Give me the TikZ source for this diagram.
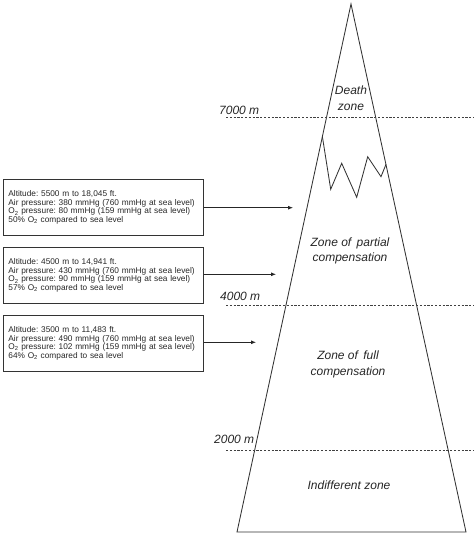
\documentclass[tikz,border=0pt]{standalone}
\usepackage{fontspec}
\setmainfont{Liberation Sans}
\usetikzlibrary{arrows.meta}
\frenchspacing
\begin{document}
\begin{tikzpicture}[x=1pt,y=-1pt,
  line/.style={draw=black!80, line width=0.85pt},
  dashline/.style={draw=black!75, line width=0.8pt, dash pattern=on 2.2pt off 1.6pt},
  zone/.style={font=\fontsize{12}{15.5}\selectfont\itshape, text=black!85, align=center, inner sep=0pt},
  alt/.style={font=\fontsize{12}{14}\selectfont\itshape, text=black!85, inner sep=0pt},
  infobox/.style={draw=black!80, line width=0.8pt, align=left, text=black!85,
    font=\fontsize{8.3}{8.5}\selectfont, minimum width=200pt, minimum height=55.5pt,
    text width=190pt, inner xsep=5pt, inner ysep=3pt},
  arr/.style={draw=black!85, line width=0.8pt, -{Latex[length=5pt,width=4pt]}}]
\useasboundingbox (0,0) rectangle (474,536);
% mountain
\coordinate (apex) at (351,4);
\coordinate (bl) at (237,532);
\coordinate (br) at (466,532);
\draw[line, line join=miter] (bl) -- (apex) -- (br) -- cycle;
% zigzag
\coordinate (z0) at (322.4,136.7);
\coordinate (z6) at (386,164.3);
\draw[line] (z0) -- (330.7,189.3) -- (341.7,163.3) -- (356.7,197.3) -- (367.7,156.7) -- (381,176.7) -- (z6);
% dashed altitude lines
\coordinate (d7a) at (226,117);   \coordinate (d7b) at (474,117);
\coordinate (d4a) at (226,305.7); \coordinate (d4b) at (474,305.7);
\coordinate (d2a) at (226,450.7); \coordinate (d2b) at (474,450.7);
\draw[dashline] (d7a) -- (d7b);
\draw[dashline] (d4a) -- (d4b);
\draw[dashline] (d2a) -- (d2b);
% altitude labels
\node[alt, anchor=west] (l7) at (219,110) {7000 m};
\node[alt, anchor=west] (l4) at (220,296.5) {4000 m};
\node[alt, anchor=west] (l2) at (214,439.5) {2000 m};
% zone labels
\node[zone] (death) at (351,98) {Death\\zone};
\node[zone] (partial) at (350,251) {Zone of \,partial\\compensation};
\node[zone] (full) at (348,364.5) {Zone of \,full\\compensation};
\node[zone] (indiff) at (349,485) {Indifferent zone};
% info boxes
\node[infobox, anchor=north west] (b1) at (3,179.3) {Altitude: 5500 m to 18,045 ft.\\Air pressure: 380 mmHg (760 mmHg at sea level)\\O\textsubscript{2} pressure: 80 mmHg (159 mmHg at sea level)\\50\% O\textsubscript{2} compared to sea level};
\node[infobox, anchor=north west] (b2) at (3,247.3) {Altitude: 4500 m to 14,941 ft.\\Air pressure: 430 mmHg (760 mmHg at sea level)\\O\textsubscript{2} pressure: 90 mmHg (159 mmHg at sea level)\\57\% O\textsubscript{2} compared to sea level};
\node[infobox, anchor=north west] (b3) at (3,315) {Altitude: 3500 m to 11,483 ft.\\Air pressure: 490 mmHg (760 mmHg at sea level)\\O\textsubscript{2} pressure: 102 mmHg (159 mmHg at sea level)\\64\% O\textsubscript{2} compared to sea level};
\coordinate (t1) at (293,207.7);
\coordinate (t2) at (276,274.3);
\coordinate (t3) at (256,342.3);
\draw[arr] (b1.east |- t1) -- (t1);
\draw[arr] (b2.east |- t2) -- (t2);
\draw[arr] (b3.east |- t3) -- (t3);
\end{tikzpicture}
\end{document}
